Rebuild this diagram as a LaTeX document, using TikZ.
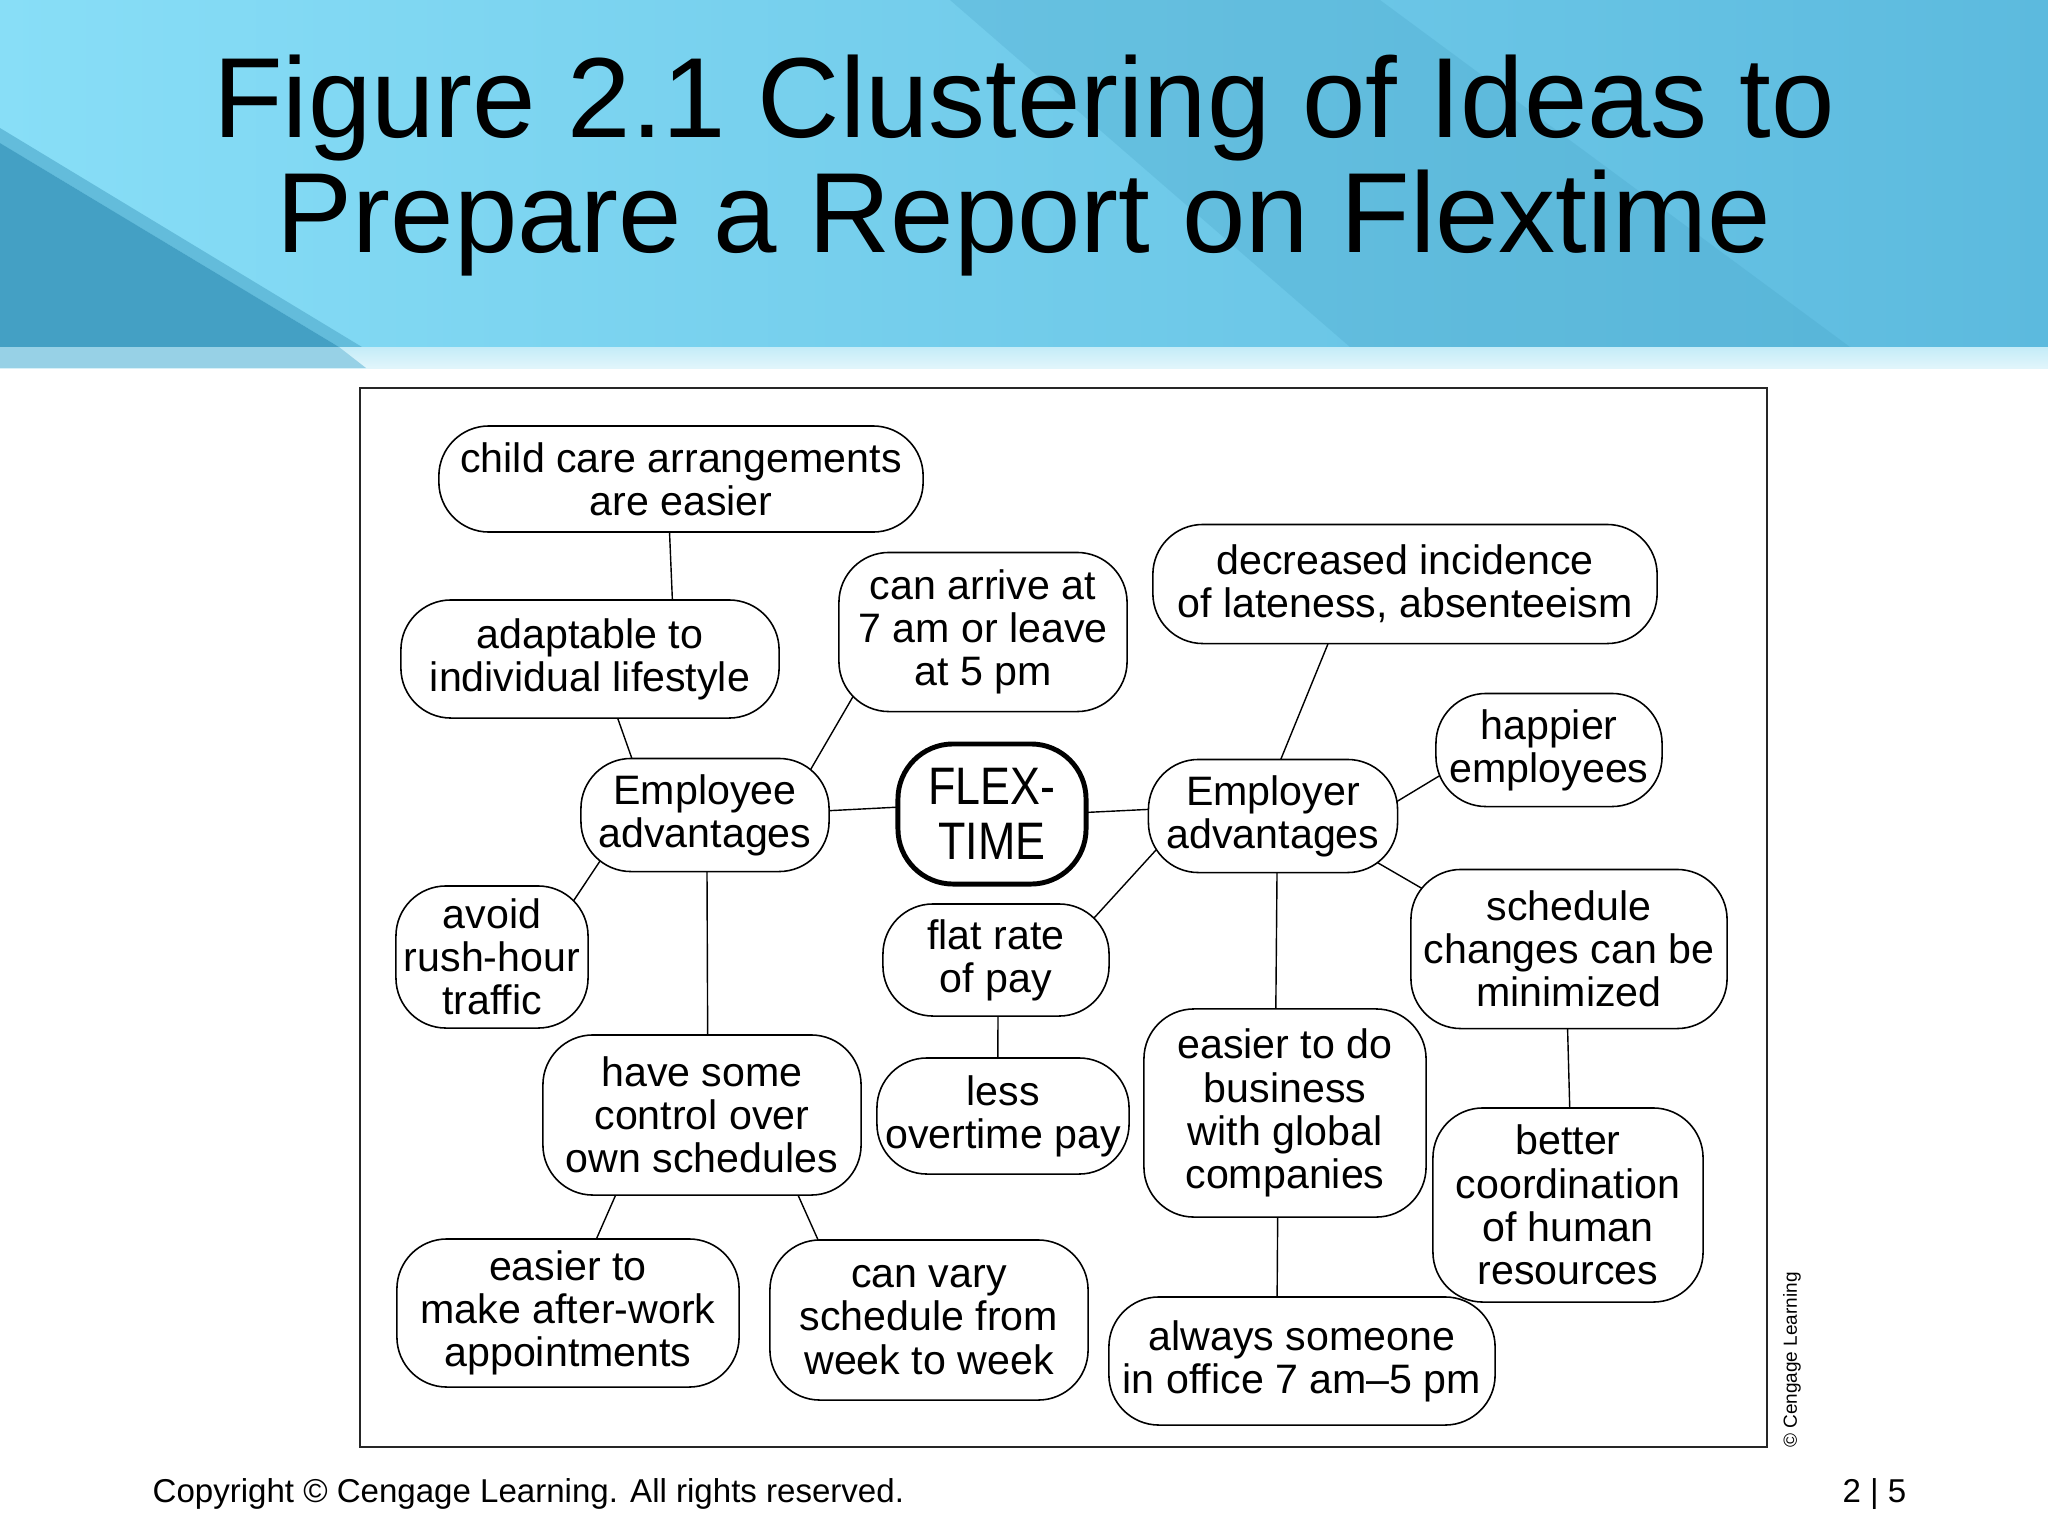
\documentclass[tikz,border=0pt]{standalone}
\usepackage{fontspec}
\setmainfont{Liberation Sans}
\newfontfamily\hubfont[FakeStretch=0.85]{Liberation Sans}
\usepackage{tikz}
\usetikzlibrary{backgrounds}
\definecolor{hdrlight}{RGB}{136,222,247}
\definecolor{hdrmid}{RGB}{92,186,222}
\definecolor{hdrdark}{RGB}{68,160,196}
\definecolor{hdrstrip}{RGB}{196,236,248}

\begin{document}
\begin{tikzpicture}[
    x=0.01cm, y=-0.01cm,
    idea/.style={draw, fill=white, line width=0.45pt, rounded corners=0.5cm, align=center, inner sep=0pt, font=\fontsize{11.7}{12.3}\selectfont},
    hub/.style={idea, line width=1.4pt, rounded corners=0.55cm, font=\hubfont\fontsize{15}{15.6}\selectfont},
    heading/.style={anchor=base, inner sep=0pt, font=\fontsize{32.4}{32.7}\selectfont},
    foot/.style={inner sep=0pt, font=\fontsize{9.4}{11}\selectfont},
    link/.style={line width=0.4pt, shorten <=-8pt, shorten >=-8pt}
  ]
  \useasboundingbox (0,0) rectangle (2048,1536);
  \begin{scope}[on background layer]
    \fill[white] (0,0) rectangle (2048,1536);
  \end{scope}

  \shade[left color=hdrlight, right color=hdrmid] (0,0) rectangle (2048,347);
  \fill[hdrdark, opacity=0.25] (950,0) -- (1380,0) -- (1850,347) -- (1350,347) -- cycle;
  \fill[hdrdark!55!hdrlight] (0,128) -- (362,347) -- (339,347) -- (0,143) -- cycle;
  \fill[hdrdark] (0,143) -- (339,347) -- (0,347) -- cycle;
  \shade[top color=hdrstrip, bottom color=hdrstrip!50!white] (0,347) rectangle (2048,368);
  \fill[hdrstrip!65!hdrdark] (0,347) -- (339,347) -- (366,368) -- (0,368) -- cycle;

  \node[heading] (titletop) at (1024,137) {Figure 2.1 Clustering of Ideas to};
  \node[heading] (titlebot) at (1024,252) {Prepare a Report on Flextime};

  \draw[line width=0.6pt, black!85] (360,388) rectangle (1767,1447);

  \node[idea, minimum width=4.84cm, minimum height=1.06cm] (childcare) at (681,479) {child care arrangements\\are easier};
  \node[idea, minimum width=3.78cm, minimum height=1.18cm] (adapt) at (590,659) {adaptable to\\individual lifestyle};
  \node[idea, minimum width=2.88cm, minimum height=1.59cm] (arrive) at (983,632) {can arrive at\\7 am or leave\\at 5 pm};
  \node[idea, minimum width=2.48cm, minimum height=1.13cm] (employee) at (705,815) {Employee\\advantages};
  \node[hub, minimum width=1.88cm, minimum height=1.40cm] (flex) at (992,814) {FLEX-\\TIME};
  \node[idea, minimum width=2.49cm, minimum height=1.13cm] (employer) at (1273,816) {Employer\\advantages};
  \node[idea, minimum width=5.04cm, minimum height=1.19cm] (lateness) at (1405,584) {decreased incidence\\of lateness, absenteeism};
  \node[idea, minimum width=2.26cm, minimum height=1.13cm] (happier) at (1549,750) {happier\\employees};
  \node[idea, minimum width=1.92cm, minimum height=1.42cm] (rush) at (492,957) {avoid\\rush-hour\\traffic};
  \node[idea, minimum width=2.26cm, minimum height=1.12cm] (flatrate) at (996,960) {flat rate\\of pay};
  \node[idea, minimum width=3.16cm, minimum height=1.59cm] (minimize) at (1569,949) {schedule\\changes can be\\minimized};
  \node[idea, minimum width=3.18cm, minimum height=1.60cm] (control) at (702,1115) {have some\\control over\\own schedules};
  \node[idea, minimum width=2.52cm, minimum height=1.16cm] (overtime) at (1003,1116) {less\\overtime pay};
  \node[idea, minimum width=2.82cm, minimum height=2.08cm] (global) at (1285,1113) {easier to do\\business\\with global\\companies};
  \node[idea, minimum width=2.70cm, minimum height=1.94cm] (coord) at (1568,1205) {better\\coordination\\of human\\resources};
  \node[idea, minimum width=3.42cm, minimum height=1.48cm] (afterwork) at (568,1313) {easier to\\make after-work\\appointments};
  \node[idea, minimum width=3.18cm, minimum height=1.60cm] (vary) at (929,1320) {can vary\\schedule from\\week to week};
  \node[idea, minimum width=3.86cm, minimum height=1.28cm] (office) at (1302,1361) {always someone\\in office 7 am–5 pm};

  \begin{scope}[on background layer]
    \draw[link] (childcare.258) -- (adapt.36);
    \draw[link] (adapt.295) -- (employee.142);
    \draw[link] (arrive.210) -- (employee.27);
    \draw[link] (employee.2) -- (flex.176);
    \draw[link] (flex.1) -- (employer.177);
    \draw[link] (employer.82) -- (lateness.218);
    \draw[link] (employer.7) -- (happier.194);
    \draw[link] (employer.335) -- (minimize.157);
    \draw[link] (employer.274) -- (global.95);
    \draw[link] (employer.199) -- (flatrate.27);
    \draw[link] (flatrate.272) -- (overtime.95);
    \draw[link] (employee.207) -- (rush.38);
    \draw[link] (employee.272) -- (control.86);
    \draw[link] (control.223) -- (afterwork.69);
    \draw[link] (control.320) -- (vary.144);
    \draw[link] (minimize.269) -- (coord.89);
    \draw[link] (global.266) -- (office.111);
  \end{scope}

  \node[foot, rotate=90, font=\fontsize{5.4}{6}\selectfont] (credit) at (1792,1360) {© Cengage Learning};
  \node[foot, anchor=base west] (copyright) at (152,1502) {Copyright © Cengage Learning. All rights reserved.};
  \node[foot, anchor=base east] (pagenum) at (1907,1502) {2 | 5};
\end{tikzpicture}
\end{document}
